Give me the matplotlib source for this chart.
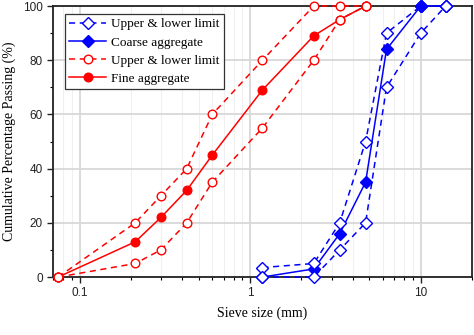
import numpy as np
import matplotlib
matplotlib.use('Agg')
import matplotlib.pyplot as plt
from matplotlib.ticker import FixedLocator, LogLocator, NullFormatter, MultipleLocator

plt.rcParams['font.family'] = ['Liberation Serif', 'DejaVu Serif']

# fine aggregate (sieve sizes in mm, % passing)
fine_size = [0.075, 0.212, 0.3, 0.425, 0.6, 1.18, 2.36, 3.35, 4.75]
fine_upper = [0, 20, 30, 40, 60, 80, 100, 100, 100]
fine_mid = [0, 13, 22, 32, 45, 69, 89, 95, 100]
fine_lower = [0, 5, 10, 20, 35, 55, 80, 95, 100]

# coarse aggregate
coarse_size = [1.18, 2.36, 3.35, 4.75, 6.3, 10, 14]
coarse_upper = [3.5, 5, 20, 50, 90, 100, 100]
coarse_mid = [0, 3, 16, 35, 84, 100, 100]
coarse_lower = [0, 0, 10, 20, 70, 90, 100]

blue = '#0000ff'
red = '#ff0000'
dash = (0, (4, 3))

fig = plt.figure(figsize=(4.74, 3.35), dpi=100, facecolor='white')
ax = fig.add_axes([0.112, 0.173, 0.884, 0.809])

# grid
ax.set_xscale('log')
ax.grid(True, which='major', color='#d8d8d8', lw=1.3, zorder=0)
ax.grid(True, which='minor', axis='x', color='#f0f0f0', lw=0.8, zorder=0)
ax.set_axisbelow(True)

# coarse
ax.plot(coarse_size, coarse_mid, color=blue, marker='D', markersize=6, lw=1.1, zorder=3,
        clip_on=False, label='Coarse aggregate')
ax.plot(coarse_size, coarse_upper, color=blue, marker='D', ls=dash, lw=1.1, markersize=6,
        markerfacecolor='white', zorder=4, clip_on=False, label='Upper & lower limit')
ax.plot(coarse_size, coarse_lower, color=blue, marker='D', ls=dash, lw=1.1, markersize=6,
        markerfacecolor='white', zorder=4, clip_on=False)
ax.plot(coarse_size[-2:-1], coarse_mid[-2:-1], color=blue, marker='D', markersize=6, ls='none',
        zorder=5, clip_on=False)

# fine
ax.plot(fine_size, fine_mid, color=red, marker='o', markersize=6.2, lw=1.1, zorder=3,
        clip_on=False, label='Fine aggregate')
ax.plot(fine_size, fine_upper, color=red, marker='o', ls=dash, lw=1.1, markersize=6.2,
        markerfacecolor='white', zorder=4, clip_on=False, label='Upper & lower limit')
ax.plot(fine_size, fine_lower, color=red, marker='o', ls=dash, lw=1.1, markersize=6.2,
        markerfacecolor='white', zorder=4, clip_on=False)

ax.set_xlim(0.07, 20)
ax.set_ylim(0, 100)

ax.xaxis.set_major_locator(FixedLocator([0.1, 1, 10]))
ax.xaxis.set_major_formatter(plt.FixedFormatter(['0.1', '1', '10']))
ax.xaxis.set_minor_locator(LogLocator(base=10, subs=np.arange(2, 10)))
ax.xaxis.set_minor_formatter(NullFormatter())
ax.yaxis.set_major_locator(MultipleLocator(20))
ax.yaxis.set_minor_locator(MultipleLocator(10))

ax.tick_params(which='major', direction='out', length=4.5, width=1, labelsize=8.5,
               colors='#222222', pad=3)
ax.tick_params(which='minor', direction='out', length=2.5, width=0.8)
for lab in ax.get_xticklabels() + ax.get_yticklabels():
    lab.set_family(['Liberation Sans', 'DejaVu Sans'])
for s in ax.spines.values():
    s.set_linewidth(1.3)
    s.set_color('#222222')

ax.set_xlabel('Sieve size (mm)', fontsize=10, labelpad=5)
ax.set_ylabel('Cumulative Percentage Passing (%)', fontsize=10, labelpad=5)

h, l = ax.get_legend_handles_labels()
order = [1, 0, 3, 2]
leg = ax.legend([h[i] for i in order], [l[i] for i in order], loc='upper left',
                bbox_to_anchor=(0.029, 0.97), fontsize=9.5, numpoints=1, handlelength=2.8,
                fancybox=False, framealpha=1, edgecolor='#333333', borderpad=0.3,
                labelspacing=0.45, handletextpad=0.4, borderaxespad=0)
leg.get_frame().set_linewidth(0.9)

fig.savefig('out.png', dpi=100)
